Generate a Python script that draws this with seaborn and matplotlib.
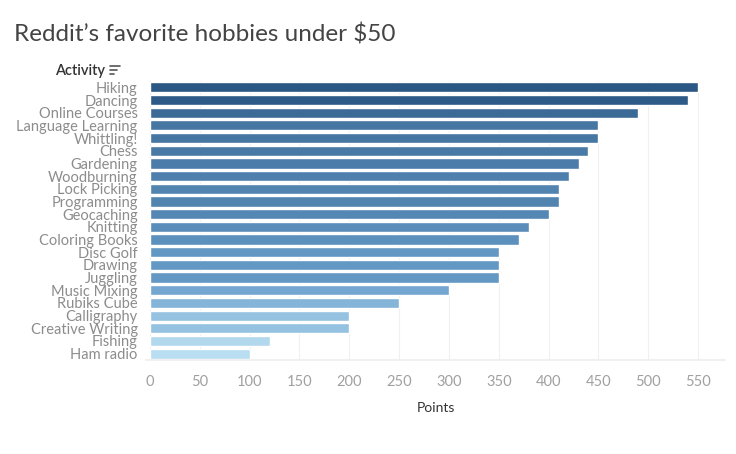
import numpy as np
import pandas as pd
import matplotlib
matplotlib.use("Agg")
import matplotlib.pyplot as plt
from matplotlib.colors import LinearSegmentedColormap
import seaborn as sns

activities = [
    "Hiking", "Dancing", "Online Courses", "Language Learning", "Whittling!",
    "Chess", "Gardening", "Woodburning", "Lock Picking", "Programming",
    "Geocaching", "Knitting", "Coloring Books", "Disc Golf", "Drawing",
    "Juggling", "Music Mixing", "Rubiks Cube", "Calligraphy",
    "Creative Writing", "Fishing", "Ham radio",
]
points = [550, 540, 490, 450, 450, 440, 430, 420, 410, 410, 400, 380, 370,
          350, 350, 350, 300, 250, 200, 200, 120, 100]
x_ticks = list(range(0, 551, 50))

df = pd.DataFrame({"Activity": activities, "Points": points})

sns.set_theme(style="white")
plt.rcParams["font.family"] = ["Lato", "DejaVu Sans"]

cmap = LinearSegmentedColormap.from_list("tab_blue", ["#b9ddf1", "#6a9fcc", "#2a5783"])
norm = plt.Normalize(min(points), max(points))
colors = [cmap(norm(v)) for v in points]

fig = plt.figure(figsize=(7.36, 4.54), dpi=100)
ax = fig.add_axes([146 / 736, 1 - 360 / 454, (725 - 146) / 736, (360 - 81) / 454])

sns.barplot(data=df, x="Points", y="Activity", hue="Activity", palette=colors,
            legend=False, width=0.8, ax=ax, saturation=1)

ax.set_xlim(-4, 577)
ax.set_xticks(x_ticks)
ax.set_xticklabels([str(t) for t in x_ticks], fontsize=10.5, color="#a0a0a0")
ax.tick_params(axis="y", labelsize=10.5, length=0, pad=6)
ax.tick_params(axis="x", length=0, pad=11)
for lab in ax.get_yticklabels():
    lab.set_color("#8c8c8c")
ax.xaxis.grid(True, color="#f0f0f0", linewidth=0.8)
ax.set_axisbelow(True)
for s in ["top", "right", "left"]:
    ax.spines[s].set_visible(False)
ax.spines["bottom"].set_color("#eeeeee")
ax.set_ylabel("")
ax.set_xlabel("Points", fontsize=10, color="#333333", labelpad=9)

fig.text(14 / 736, 1 - 35 / 454, "Reddit\u2019s favorite hobbies under $50",
         fontsize=17.5, color="#444444", va="center", ha="left")
fig.text(105 / 736, 1 - 71 / 454, "Activity", fontsize=10.5, color="#333333",
         va="center", ha="right", fontweight="semibold")
# sort icon next to header
for i, w in enumerate([10, 7, 4]):
    y = 1 - (66 + i * 4) / 454
    fig.add_artist(plt.Line2D([110 / 736, (110 + w) / 736], [y, y],
                              color="#555555", linewidth=1.2))

fig.savefig("out.png", dpi=100)
